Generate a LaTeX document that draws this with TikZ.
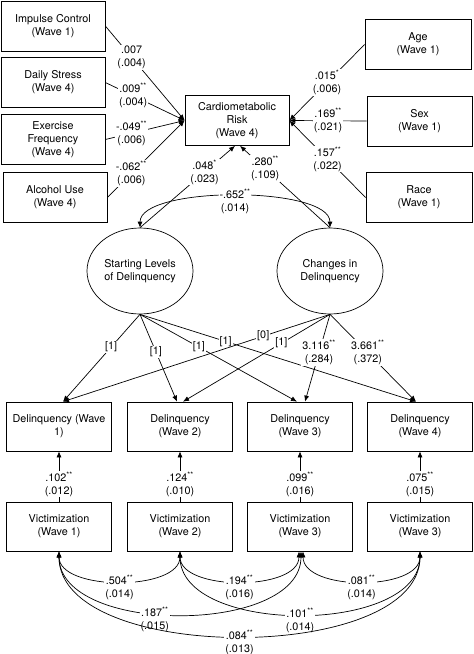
\documentclass[tikz,border=0pt]{standalone}
\usepackage{fontspec}
\setmainfont{TeX Gyre Heros}
\usetikzlibrary{arrows.meta,shapes.geometric}

\begin{document}
\begin{tikzpicture}[x=1pt,y=-1pt,>={Latex[length=6pt,width=5pt]},line width=0.7pt,
  font=\fontsize{10.8}{13}\selectfont,
  box/.style={draw,align=center,minimum width=105pt,minimum height=50pt,inner sep=1pt},
  latent/.style={draw,ellipse,align=center,minimum width=106pt,minimum height=86pt,inner sep=1pt},
  est/.style={fill=white,align=center,inner sep=1pt}]
  \useasboundingbox (0,0) rectangle (474,654);

  % predictors of cardiometabolic risk
  \node[box,minimum width=104pt] (impulse) at (53,26) {Impulse Control\\(Wave 1)};
  \node[box,minimum width=104pt] (stress) at (53,82.5) {Daily Stress\\(Wave 4)};
  \node[box,minimum width=104pt] (exercise) at (53,139.5) {Exercise\\Frequency\\(Wave 4)};
  \node[box,minimum width=104pt] (alcohol) at (55,197.5) {Alcohol Use\\(Wave 4)};

  \node[box,minimum width=104pt] (cardio) at (237,120.5) {Cardiometabolic\\Risk\\(Wave 4)};

  \node[box,minimum width=106pt] (age) at (418,44.5) {Age\\(Wave 1)};
  \node[box] (sex) at (419.5,121) {Sex\\(Wave 1)};
  \node[box,minimum width=106pt] (race) at (419,197.5) {Race\\(Wave 1)};

  \draw[->] (impulse.east) -- node[est,pos=0.33]{.007\\(.004)} (cardio.west);
  \draw[->] (stress.east) -- node[est,pos=0.35]{.009\textsuperscript{**}\\(.004)} (cardio.west);
  \draw[->] (exercise.east) -- node[est,pos=0.33]{-.049\textsuperscript{**}\\(.006)} (cardio.west);
  \draw[->] (alcohol.east) -- node[est,pos=0.31]{-.062\textsuperscript{**}\\(.006)} (cardio.west);

  \draw[->] (age.west) -- node[est]{.015\textsuperscript{*}\\(.006)} (cardio.east);
  \draw[->] (sex.west) -- node[est]{.169\textsuperscript{**}\\(.021)} (cardio.east);
  \draw[->] (race.west) -- node[est]{.157\textsuperscript{**}\\(.022)} (cardio.east);

  % growth factors
  \node[latent] (start) at (140,271) {Starting Levels\\of Delinquency};
  \node[latent] (change) at (330,271) {Changes in\\Delinquency};

  \draw[->] (start.north) -- node[est,pos=0.68]{.048\textsuperscript{*}\\(.023)} ([xshift=-2pt]cardio.south);
  \draw[->] (change.north) -- node[est,pos=0.72]{.280\textsuperscript{**}\\(.109)} ([xshift=3pt]cardio.south);
  \draw[<->] (start.north) .. controls +(0,-42) and +(0,-42) .. node[est,yshift=-5pt]{-.652\textsuperscript{**}\\(.014)} (change.north);

  % observed delinquency and victimization
  \node[box,minimum height=49pt] (d1) at (59,426.5) {Delinquency (Wave\\1)};
  \node[box,minimum height=49pt] (d2) at (180,426.5) {Delinquency\\(Wave 2)};
  \node[box,minimum height=49pt] (d3) at (300,426.5) {Delinquency\\(Wave 3)};
  \node[box,minimum height=49pt] (d4) at (420,426.5) {Delinquency\\(Wave 4)};

  \node[box,minimum height=49pt] (v1) at (59,526.5) {Victimization\\(Wave 1)};
  \node[box,minimum height=49pt] (v2) at (180,526.5) {Victimization\\(Wave 2)};
  \node[box,minimum height=49pt] (v3) at (300,526.5) {Victimization\\(Wave 3)};
  \node[box,minimum height=49pt] (v4) at (420,526.5) {Victimization\\(Wave 3)};

  \draw[->] (start.south) -- node[est,pos=0.375]{[1]} ([xshift=4pt]d1.north);
  \draw[->] (start.south) -- node[est,pos=0.43]{[1]} ([xshift=-3pt]d2.north);
  \draw[->] (start.south) -- node[est,pos=0.375]{[1]} ([xshift=-3pt]d3.north);
  \draw[->] (start.south) -- node[est,pos=0.31]{[1]} ([xshift=-4pt]d4.north);
  \draw[->] (change.south) -- node[est,pos=0.25]{[0]} ([xshift=4pt]d1.north);
  \draw[->] (change.south) -- node[est,pos=0.33]{[1]} ([xshift=3pt]d2.north);
  \draw[->] (change.south) -- node[est,pos=0.44]{3.116\textsuperscript{**}\\(.284)} ([xshift=5pt]d3.north);
  \draw[->] (change.south) -- node[est,pos=0.44]{3.661\textsuperscript{**}\\(.372)} ([xshift=-4pt]d4.north);

  \draw[->] (v1.north) -- node[est,pos=0.35]{.102\textsuperscript{**}\\(.012)} (d1.south);
  \draw[->] (v2.north) -- node[est,pos=0.35]{.124\textsuperscript{**}\\(.010)} (d2.south);
  \draw[->] (v3.north) -- node[est,pos=0.35]{.099\textsuperscript{**}\\(.016)} (d3.south);
  \draw[->] (v4.north) -- node[est,pos=0.35]{.075\textsuperscript{**}\\(.015)} (d4.south);

  % covariances among victimization
  \draw[<->] (v1.south) .. controls +(0,40) and +(0,40) .. node[est,yshift=-6pt]{.504\textsuperscript{**}\\(.014)} (v2.south);
  \draw[<->] (v2.south) .. controls +(0,40) and +(0,40) .. node[est,yshift=-6pt]{.194\textsuperscript{**}\\(.016)} ([xshift=-1pt]v3.south);
  \draw[<->] ([xshift=3pt]v3.south) .. controls +(0,40) and +(0,40) .. node[est,yshift=-6pt]{.081\textsuperscript{**}\\(.014)} (v4.south);
  \draw[<->] (v1.south) .. controls +(0,84) and +(0,84) .. node[est,pos=0.43,yshift=-6pt]{.187\textsuperscript{**}\\(.015)} ([xshift=1pt]v3.south);
  \draw[<->] (v2.south) .. controls +(0,84) and +(0,84) .. node[est,yshift=-6pt]{.101\textsuperscript{**}\\(.014)} (v4.south);
  \draw[<->] (v1.south) .. controls +(0,113) and +(0,113) .. node[est,yshift=-6pt]{.084\textsuperscript{**}\\(.013)} (v4.south);

\end{tikzpicture}
\end{document}
